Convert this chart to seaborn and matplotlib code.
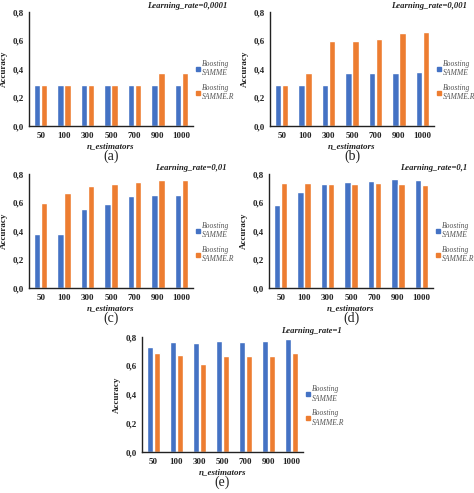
import numpy as np
import pandas as pd
import matplotlib
matplotlib.use("Agg")
import matplotlib.pyplot as plt
import seaborn as sns
from matplotlib.ticker import FuncFormatter
from matplotlib.lines import Line2D

# --- data ---
n_estimators = ["50", "100", "300", "500", "700", "900", "1000"]
models = ["Boosting\nSAMME", "Boosting\nSAMME.R"]

lr_labels = ["0,0001", "0,001", "0,01", "0,1", "1"]
panel_tags = ["(a)", "(b)", "(c)", "(d)", "(e)"]

samme_0001 = [0.285, 0.285, 0.285, 0.285, 0.285, 0.285, 0.285]
sammer_0001 = [0.29, 0.29, 0.29, 0.29, 0.285, 0.374, 0.374]

samme_001 = [0.29, 0.29, 0.285, 0.375, 0.375, 0.375, 0.378]
sammer_001 = [0.29, 0.375, 0.595, 0.597, 0.61, 0.65, 0.657]

samme_01 = [0.378, 0.378, 0.551, 0.591, 0.645, 0.652, 0.65]
sammer_01 = [0.598, 0.666, 0.715, 0.732, 0.746, 0.76, 0.755]

samme_1 = [0.582, 0.671, 0.732, 0.746, 0.753, 0.762, 0.758]
sammer_1 = [0.734, 0.737, 0.732, 0.727, 0.737, 0.727, 0.725]

samme_10 = [0.733, 0.768, 0.758, 0.775, 0.763, 0.772, 0.789]
sammer_10 = [0.692, 0.673, 0.613, 0.666, 0.666, 0.666, 0.687]

series = [
    (samme_0001, sammer_0001),
    (samme_001, sammer_001),
    (samme_01, sammer_01),
    (samme_1, sammer_1),
    (samme_10, sammer_10),
]

BLUE = "#4472C4"
ORANGE = "#ED7D31"
INK = "#222222"

sns.set_theme(style="white")
plt.rcParams["font.family"] = ["Liberation Serif", "DejaVu Serif"]

W, H = 474, 493
fig = plt.figure(figsize=(W / 100, H / 100), dpi=100)

# axes boxes in pixels: left, right, top, bottom
boxes = [
    (29, 193, 12, 126),
    (270, 434, 12, 126),
    (29, 193, 174, 288),
    (269, 433, 174, 288),
    (142, 303, 337, 452),
]
# right edge of the "Learning_rate" caption, in pixels
title_right = [227, 467, 227, 467, 342]

for i, (l, r, t, b) in enumerate(boxes):
    ax = fig.add_axes([l / W, 1 - b / H, (r - l) / W, (b - t) / H])
    h = b - t
    s1, s2 = series[i]
    df = pd.DataFrame({
        "n_estimators": n_estimators * 2,
        "Accuracy": s1 + s2,
        "Model": [models[0]] * len(n_estimators) + [models[1]] * len(n_estimators),
    })
    sns.barplot(data=df, x="n_estimators", y="Accuracy", hue="Model",
                order=n_estimators, hue_order=models,
                palette=[BLUE, ORANGE], width=0.6, gap=0.08,
                saturation=1, ax=ax, legend=False)

    ax.set_ylim(0, 0.8)
    ax.set_yticks([0, 0.2, 0.4, 0.6, 0.8])
    ax.yaxis.set_major_formatter(FuncFormatter(lambda v, p: f"{v:.1f}".replace(".", ",")))
    ax.tick_params(axis="both", length=0, labelsize=6.5, pad=4, colors=INK)
    for lab in ax.get_xticklabels() + ax.get_yticklabels():
        lab.set_fontweight("bold")
    sns.despine(ax=ax)
    for sp in ("left", "bottom"):
        ax.spines[sp].set_color(INK)
        ax.spines[sp].set_linewidth(1.0)

    ax.set_xlabel("n_estimators", fontsize=6.5, fontweight="bold", fontstyle="italic",
                  labelpad=2, color=INK)
    ax.set_ylabel("Accuracy", fontsize=6.5, fontweight="bold", labelpad=3, color=INK)

    # legend to the right of the plot area
    handles = [Line2D([], [], marker="s", linestyle="", color=c, markersize=2.8)
               for c in (BLUE, ORANGE)]
    ax.legend(handles, models, loc="center left", bbox_to_anchor=(0.98, 0.4),
              frameon=False, handlelength=0.4, handletextpad=0.3, labelspacing=0.9,
              prop={"size": 5.5, "style": "italic"}, labelcolor="#555555")

    # caption with the learning rate
    ax.text((title_right[i] - l) / (r - l), (h + 6) / h,
            "Learning_rate=" + lr_labels[i], transform=ax.transAxes,
            ha="right", va="center", fontsize=6.2, fontweight="bold", fontstyle="italic",
            color=INK)

    # panel tag underneath
    ax.text(0.5, -30 / h, panel_tags[i], transform=ax.transAxes,
            ha="center", va="center", fontsize=10, color=INK)

fig.savefig("out.png", dpi=100)
